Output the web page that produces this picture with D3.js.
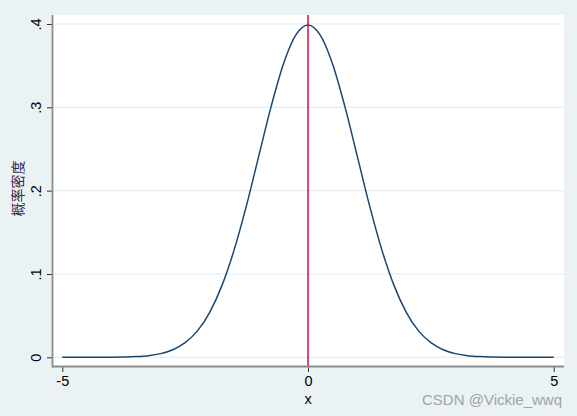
<!DOCTYPE html>
<html>
<head>
<meta charset="utf-8">
<script src="https://cdn.jsdelivr.net/npm/d3@7"></script>
<style>
  body { margin: 0; background: #eaf2f3; }
  svg { display: block; font-family: "Liberation Sans", Arial, sans-serif; }
</style>
</head>
<body>
<svg width="577" height="416"></svg>
<script>
// density (symmetric around 0)
var xs = [-5, -4.75, -4.5, -4.25, -4, -3.75, -3.5, -3.25, -3, -2.75, -2.5, -2.25, -2, -1.75, -1.5, -1.25, -1, -0.75, -0.5, -0.25,
          0, 0.25, 0.5, 0.75, 1, 1.25, 1.5, 1.75, 2, 2.25, 2.5, 2.75, 3, 3.25, 3.5, 3.75, 4, 4.25, 4.5, 4.75, 5];
var density = [0, 0, 0, 0, 0.0001, 0.0004, 0.0009, 0.002, 0.0044, 0.0091, 0.0175, 0.0317, 0.054, 0.0863, 0.1295, 0.1826, 0.242, 0.3011, 0.3521, 0.3867,
               0.3989, 0.3867, 0.3521, 0.3011, 0.242, 0.1826, 0.1295, 0.0863, 0.054, 0.0317, 0.0175, 0.0091, 0.0044, 0.002, 0.0009, 0.0004, 0.0001, 0, 0, 0, 0];
var xTicks = [-5, 0, 5];
var yTicks = [0, 0.1, 0.2, 0.3, 0.4];
var xLine = 0;
var yTitle = "概率密度";
var xTitle = "x";

var svg = d3.select('svg');
var plot = { left: 53, right: 564, top: 15, bottom: 366 };

var x = d3.scaleLinear().domain([-5, 5]).range([62.3, 553.7]);
var y = d3.scaleLinear().domain([0, 0.4]).range([357.3, 24]);

svg.append('rect')
  .attr('x', plot.left).attr('y', plot.top)
  .attr('width', plot.right - plot.left).attr('height', plot.bottom - plot.top)
  .attr('fill', '#fff');

// grid
svg.selectAll('.grid')
  .data(yTicks)
  .enter()
  .append('line')
  .attr('x1', plot.left).attr('x2', plot.right)
  .attr('y1', function(d) { return y(d); })
  .attr('y2', function(d) { return y(d); })
  .attr('stroke', '#e4eef0')
  .attr('stroke-width', 1.2);

// curve
var line = d3.line()
  .x(function(d, i) { return x(xs[i]); })
  .y(function(d) { return y(d); })
  .curve(d3.curveMonotoneX);

svg.append('path')
  .datum(density)
  .attr('d', line)
  .attr('fill', 'none')
  .attr('stroke', '#1a476f')
  .attr('stroke-width', 1.5);

// xline
svg.append('line')
  .attr('x1', x(xLine)).attr('x2', x(xLine))
  .attr('y1', plot.top).attr('y2', plot.bottom)
  .attr('stroke', '#dc0a3c')
  .attr('stroke-width', 1.5);

// axes
var yAxis = d3.axisLeft(y).tickValues(yTicks).tickSize(5).tickPadding(9)
  .tickFormat(function(d) { return d === 0 ? '0' : d3.format('.1f')(d).replace(/^0/, ''); });
var gy = svg.append('g').attr('transform', 'translate(' + (plot.left - 1) + ',0)').call(yAxis);
gy.select('.domain').remove();
gy.selectAll('.tick line').attr('stroke', '#333');
gy.selectAll('.tick text')
  .attr('font-size', 14.5)
  .attr('fill', '#000')
  .attr('text-anchor', 'middle')
  .attr('dy', 0)
  .attr('x', 0)
  .attr('transform', 'translate(-11,0) rotate(-90)')
  .attr('y', 0);

var xAxis = d3.axisBottom(x).tickValues(xTicks).tickSize(5).tickPadding(4).tickFormat(String);
var gx = svg.append('g').attr('transform', 'translate(0,' + (plot.bottom + 1) + ')').call(xAxis);
gx.select('.domain').remove();
gx.selectAll('.tick line').attr('stroke', '#333');
gx.selectAll('.tick text').attr('font-size', 14.5).attr('fill', '#000');

svg.append('line')
  .attr('x1', plot.left).attr('x2', plot.right)
  .attr('y1', plot.bottom + 0.5).attr('y2', plot.bottom + 0.5)
  .attr('stroke', '#8c8c8c').attr('stroke-width', 1.8);
svg.append('line')
  .attr('x1', plot.left - 0.5).attr('x2', plot.left - 0.5)
  .attr('y1', plot.top).attr('y2', plot.bottom + 1.4)
  .attr('stroke', '#8c8c8c').attr('stroke-width', 1.8);

// titles
svg.append('text')
  .attr('transform', 'translate(23,' + ((plot.top + plot.bottom) / 2 - 2) + ') rotate(-90)')
  .attr('text-anchor', 'middle')
  .attr('font-family', '"Noto Sans CJK SC", sans-serif')
  .attr('font-size', 14)
  .attr('fill', '#3c1e4a')
  .text(yTitle);

svg.append('text')
  .attr('x', x(0)).attr('y', 404)
  .attr('text-anchor', 'middle')
  .attr('font-size', 14.5)
  .text(xTitle);

svg.append('text')
  .attr('x', 562).attr('y', 405)
  .attr('text-anchor', 'end')
  .attr('font-size', 15)
  .attr('fill', '#a0a4a6')
  .text('CSDN @Vickie_wwq');
</script>
</body>
</html>
